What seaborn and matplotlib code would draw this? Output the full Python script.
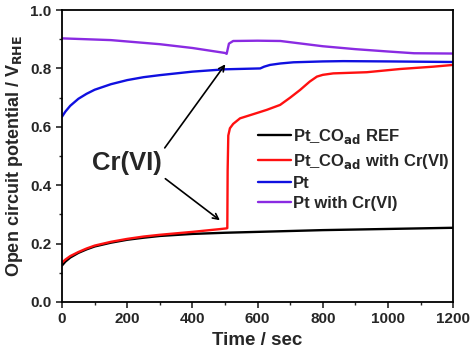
import matplotlib
matplotlib.use('Agg')
import matplotlib.pyplot as plt
import pandas as pd
import seaborn as sns

# Data
t_ref = [0, 10, 25, 50, 75, 100, 150, 200, 250, 300, 400, 500, 600, 700, 800, 900, 1000, 1100, 1200]
v_ref = [0.125, 0.138, 0.152, 0.168, 0.180, 0.190, 0.203, 0.213, 0.220, 0.226, 0.233, 0.237, 0.240,
         0.243, 0.246, 0.248, 0.250, 0.252, 0.254]

t_cr = [0, 10, 25, 50, 75, 100, 150, 200, 250, 300, 400, 480, 505, 507, 508, 510, 515, 525, 546, 600,
        628, 669, 700, 730, 760, 782, 800, 832, 935, 1037, 1139, 1200]
v_cr = [0.135, 0.145, 0.157, 0.171, 0.183, 0.193, 0.206, 0.216, 0.224, 0.230, 0.240, 0.249, 0.252, 0.253,
        0.45, 0.57, 0.595, 0.61, 0.629, 0.648, 0.658, 0.675, 0.70, 0.726, 0.755, 0.772, 0.778, 0.783,
        0.787, 0.798, 0.806, 0.812]

t_pt = [0, 10, 25, 50, 75, 100, 150, 200, 250, 300, 400, 500, 608, 620, 638, 670, 710, 800, 863, 1000, 1100, 1200]
v_pt = [0.635, 0.652, 0.672, 0.696, 0.713, 0.727, 0.746, 0.760, 0.770, 0.777, 0.789, 0.797, 0.800, 0.806,
        0.812, 0.817, 0.821, 0.824, 0.825, 0.824, 0.823, 0.822]

t_ptcr = [0, 150, 300, 400, 500, 505, 512, 525, 600, 670, 800, 900, 1000, 1080, 1200]
v_ptcr = [0.903, 0.897, 0.883, 0.870, 0.853, 0.850, 0.885, 0.894, 0.895, 0.894, 0.876, 0.866, 0.858,
          0.852, 0.851]

labels = [r'Pt_CO$_{\mathbf{ad}}$ REF', r'Pt_CO$_{\mathbf{ad}}$ with Cr(VI)', 'Pt', 'Pt with Cr(VI)']
colors = ['black', '#ff1010', '#1010e0', '#8a2be2']

sns.set_style('ticks')
plt.rcParams['font.family'] = ['Liberation Sans', 'DejaVu Sans']
plt.rcParams['font.weight'] = 'bold'
plt.rcParams['mathtext.default'] = 'bf'
plt.rcParams['xtick.direction'] = 'out'
plt.rcParams['ytick.direction'] = 'out'

fig = plt.figure(figsize=(4.74, 3.59), dpi=100)
ax = fig.add_axes([0.131, 0.159, 0.825, 0.813])

series = [(t_ref, v_ref), (t_cr, v_cr), (t_pt, v_pt), (t_ptcr, v_ptcr)]
for (t, v), lab, c in zip(series, labels, colors):
    df = pd.DataFrame({'t': t, 'v': v})
    sns.lineplot(data=df, x='t', y='v', ax=ax, color=c, label=lab, linewidth=1.7, estimator=None, sort=False)

ax.set_xlim(0, 1200)
ax.set_ylim(0, 1.0)
ax.set_xticks(range(0, 1201, 200))
ax.set_xticks(range(0, 1201, 100), minor=True)
ax.set_yticks([0.0, 0.2, 0.4, 0.6, 0.8, 1.0])
ax.set_yticks([0.1, 0.3, 0.5, 0.7, 0.9], minor=True)
ax.set_yticklabels(['0.0', '0.2', '0.4', '0.6', '0.8', '1.0'])
ax.tick_params(axis='both', which='major', labelsize=11, length=4, width=1.2)
ax.tick_params(axis='both', which='minor', length=2.5, width=1.0)
for s in ax.spines.values():
    s.set_linewidth(1.3)
    s.set_color('black')

ax.set_xlabel('Time / sec', fontsize=13.5, fontweight='bold')
ax.set_ylabel(r'Open circuit potential / V$_{\mathbf{RHE}}$', fontsize=13, fontweight='bold')

# Cr(VI) annotation with two arrows
ax.annotate('', xy=(506, 0.822), xytext=(310, 0.52),
            arrowprops=dict(arrowstyle='->', color='black', lw=1.2))
ax.annotate('', xy=(491, 0.274), xytext=(310, 0.428),
            arrowprops=dict(arrowstyle='->', color='black', lw=1.2))
ax.text(199, 0.476, 'Cr(VI)', fontsize=18.5, fontweight='bold', ha='center', va='center')

leg = ax.legend(loc='upper left', bbox_to_anchor=(0.462, 0.65), frameon=False, fontsize=12,
                handlelength=2.0, handletextpad=0.1, labelspacing=0.32)

fig.savefig('out.png', dpi=100)
